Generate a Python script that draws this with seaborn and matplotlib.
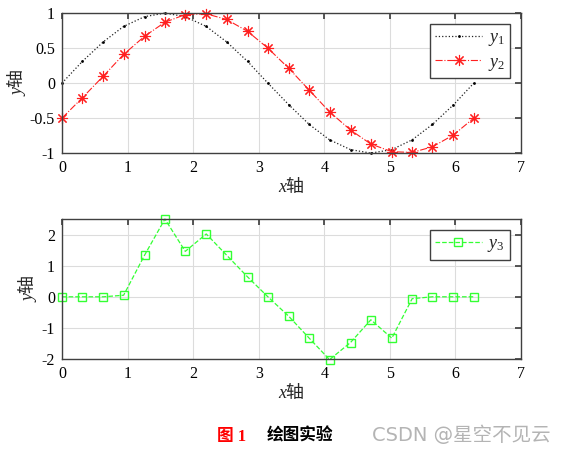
import numpy as np
import pandas as pd
import matplotlib
matplotlib.use('Agg')
import matplotlib.pyplot as plt
import seaborn as sns

# sample points (step pi/10 from 0 to 2*pi)
x_vals = [0.00, 0.31, 0.63, 0.94, 1.26, 1.57, 1.88, 2.20, 2.51, 2.83, 3.14,
          3.46, 3.77, 4.08, 4.40, 4.71, 5.03, 5.34, 5.65, 5.97, 6.28]
y1_vals = [0.00, 0.31, 0.59, 0.81, 0.95, 1.00, 0.95, 0.81, 0.59, 0.31, 0.00,
           -0.31, -0.59, -0.81, -0.95, -1.00, -0.95, -0.81, -0.59, -0.31, 0.00]
y2_vals = [-0.50, -0.21, 0.10, 0.41, 0.67, 0.87, 0.98, 0.99, 0.91, 0.74, 0.50,
           0.21, -0.10, -0.41, -0.67, -0.87, -0.98, -0.99, -0.91, -0.74, -0.50]
y3_vals = [0.00, 0.00, 0.00, 0.05, 1.34, 2.50, 1.46, 2.02, 1.34, 0.64, 0.00,
           -0.63, -1.33, -2.02, -1.47, -0.74, -1.33, -0.06, 0.00, 0.00, 0.00]

x_ticks = [0, 1, 2, 3, 4, 5, 6, 7]
top_yticks = [-1, -0.5, 0, 0.5, 1]
top_yticklabels = ['-1', '-0.5', '0', '0.5', '1']
bottom_yticks = [-2, -1, 0, 1, 2]

LABEL_FONT = ['Liberation Serif', 'Noto Sans CJK SC']

sns.set_theme(style='white')
plt.rcParams['font.family'] = LABEL_FONT
plt.rcParams['mathtext.fontset'] = 'custom'
plt.rcParams['mathtext.rm'] = 'Liberation Serif'
plt.rcParams['mathtext.it'] = 'Liberation Serif:italic'
plt.rcParams['axes.unicode_minus'] = False

df = pd.DataFrame({'x': x_vals, 'y1': y1_vals, 'y2': y2_vals, 'y3': y3_vals})

fig = plt.figure(figsize=(5.66, 4.53), dpi=100)
ax1 = fig.add_axes([0.1095, 0.662, 0.811, 0.309])
ax2 = fig.add_axes([0.1095, 0.2075, 0.811, 0.309])


def style_axes(ax):
    ax.grid(True, color='#dcdcdc', linewidth=0.8)
    ax.set_axisbelow(True)
    for sp in ax.spines.values():
        sp.set_color('#404040')
        sp.set_linewidth(1.0)
    ax.tick_params(direction='in', top=True, right=True, length=4,
                   color='#404040', labelsize=11.5, labelcolor='black', pad=5)
    ax.set_xlim(0, 7)
    ax.set_xticks(x_ticks)
    # italic latin letter, CJK char falls back to the regular CJK face
    ax.set_xlabel('x轴', fontsize=13, style='italic', labelpad=2)
    ax.set_ylabel('y轴', fontsize=13, style='italic', labelpad=2)
    for line in ax.get_lines():
        line.set_clip_on(False)


sns.lineplot(data=df, x='x', y='y1', ax=ax1, color='#222222', linestyle=':',
             linewidth=0.9, marker='.', markersize=4, markeredgewidth=0,
             markerfacecolor='black', label='$y_1$')
sns.lineplot(data=df, x='x', y='y2', ax=ax1, color='#ff2020', linestyle='-.',
             linewidth=0.8, marker=(8, 2, 0), markersize=8,
             markeredgecolor='#ff2020', markeredgewidth=0.8, label='$y_2$')
style_axes(ax1)
ax1.set_ylim(-1, 1)
ax1.set_yticks(top_yticks)
ax1.set_yticklabels(top_yticklabels)

sns.lineplot(data=df, x='x', y='y3', ax=ax2, color='#33ff33', linestyle='--',
             linewidth=0.9, marker='s', markersize=6, markerfacecolor='none',
             markeredgecolor='#33ff33', markeredgewidth=1.0, label='$y_3$')
style_axes(ax2)
ax2.set_ylim(-2, 2.5)
ax2.set_yticks(bottom_yticks)

for ax in (ax1, ax2):
    leg = ax.legend(loc='upper right', fancybox=False, framealpha=1,
                    edgecolor='#404040', fontsize=13, handlelength=2.6,
                    handletextpad=0.3, borderaxespad=0.6, labelspacing=0.3,
                    borderpad=0.3)
    leg.get_frame().set_linewidth(1.0)

fig.text(0.41, 0.027, '图 1', color='red', fontsize=12, fontweight='bold',
         family=LABEL_FONT, ha='center')
fig.text(0.53, 0.027, '绘图实验', color='black', fontsize=12,
         fontweight='bold', family=['Noto Sans CJK SC'], ha='center')
fig.text(0.815, 0.027, 'CSDN @星空不见云', color='#b4b4b4', fontsize=14,
         family=['DejaVu Sans', 'Noto Sans CJK SC'], ha='center')

fig.savefig('out.png', dpi=100)
